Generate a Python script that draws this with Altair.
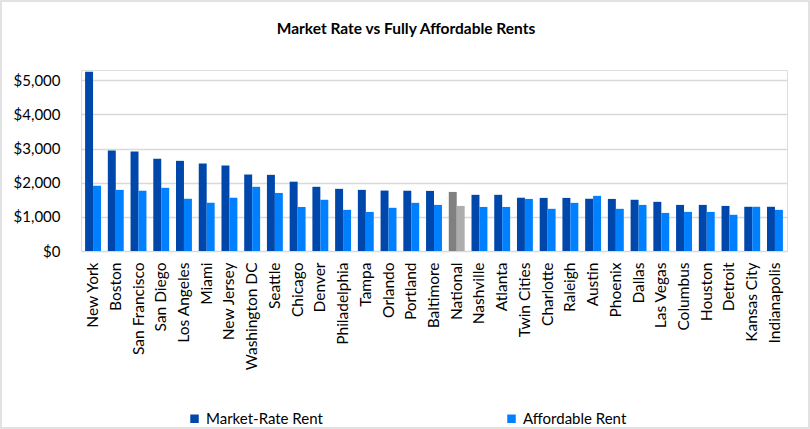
import altair as alt
import pandas as pd

cities = ["New York", "Boston", "San Francisco", "San Diego", "Los Angeles", "Miami",
          "New Jersey", "Washington DC", "Seattle", "Chicago", "Denver", "Philadelphia",
          "Tampa", "Orlando", "Portland", "Baltimore", "National", "Nashville", "Atlanta",
          "Twin Cities", "Charlotte", "Raleigh", "Austin", "Phoenix", "Dallas", "Las Vegas",
          "Columbus", "Houston", "Detroit", "Kansas City", "Indianapolis"]
market_rent = [5250, 2940, 2910, 2700, 2640, 2560, 2500, 2240, 2230, 2030, 1880, 1820,
               1790, 1770, 1765, 1760, 1730, 1645, 1645, 1560, 1555, 1555, 1530, 1525,
               1500, 1440, 1350, 1350, 1320, 1295, 1295]
affordable_rent = [1910, 1790, 1765, 1850, 1530, 1410, 1560, 1880, 1700, 1290, 1500, 1205,
                   1145, 1265, 1410, 1350, 1320, 1290, 1290, 1525, 1235, 1410, 1615, 1235,
                   1350, 1115, 1145, 1145, 1060, 1295, 1205]
series_names = ["Market-Rate Rent", "Affordable Rent"]
y_ticks = [0, 1000, 2000, 3000, 4000, 5000]

rows = []
for c, m, a in zip(cities, market_rent, affordable_rent):
    for s, v in zip(series_names, [m, a]):
        if c == "National":
            key = "National Market" if s == series_names[0] else "National Affordable"
        else:
            key = s
        rows.append({"city": c, "series": s, "value": v, "key": key})
df = pd.DataFrame(rows)

W, H = 706, 181

bars = alt.Chart(df).mark_bar().encode(
    x=alt.X("city:N", sort=cities, title=None,
            scale=alt.Scale(paddingInner=0.3, paddingOuter=0.18),
            axis=alt.Axis(labelAngle=-90, domain=False, ticks=False, labelPadding=11,
                          labelFontSize=15.5, labelColor="black", labelFont="Lato")),
    xOffset=alt.XOffset("series:N", sort=series_names, scale=alt.Scale(paddingInner=0)),
    y=alt.Y("value:Q", title=None, scale=alt.Scale(domain=[0, 5300], nice=False),
            axis=alt.Axis(values=y_ticks, format="$,.0f", domain=False, ticks=False,
                          labelPadding=21, labelFontSize=15, labelColor="black",
                          labelFont="Lato", gridColor="#D9D9D9", gridWidth=1.5)),
    color=alt.Color("key:N", title=None,
                    scale=alt.Scale(domain=series_names + ["National Market", "National Affordable"],
                                    range=["#0047AB", "#0080FF", "#808080", "#ADADAD"]),
                    legend=alt.Legend(values=series_names, orient="none", direction="horizontal",
                                      legendX=106, legendY=341, symbolType="square",
                                      symbolSize=72, labelFontSize=15, labelFont="Lato",
                                      labelColor="black", columnPadding=181, labelOffset=4)),
)

border = alt.Chart(pd.DataFrame({"a": [0]})).mark_rect(
    fill=None, stroke="#D9D9D9", strokeWidth=1.5, clip=False
).encode(x=alt.value(-80), x2=alt.value(W + 22), y=alt.value(-69), y2=alt.value(H + 177))

chart = alt.layer(border, bars).properties(
    width=W, height=H,
    autosize=alt.AutoSizeParams(type="none"),
    padding={"left": 81, "top": 70, "right": 23, "bottom": 178},
    title=alt.Title("Market Rate vs Fully Affordable Rents", font="Lato", fontSize=15.5,
                    fontWeight="bold", color="black", anchor="middle", dx=-28, offset=-37),
).configure_view(stroke=None).configure(background="white")

chart.save("out.html", embed_options={"renderer": "svg", "actions": False})
